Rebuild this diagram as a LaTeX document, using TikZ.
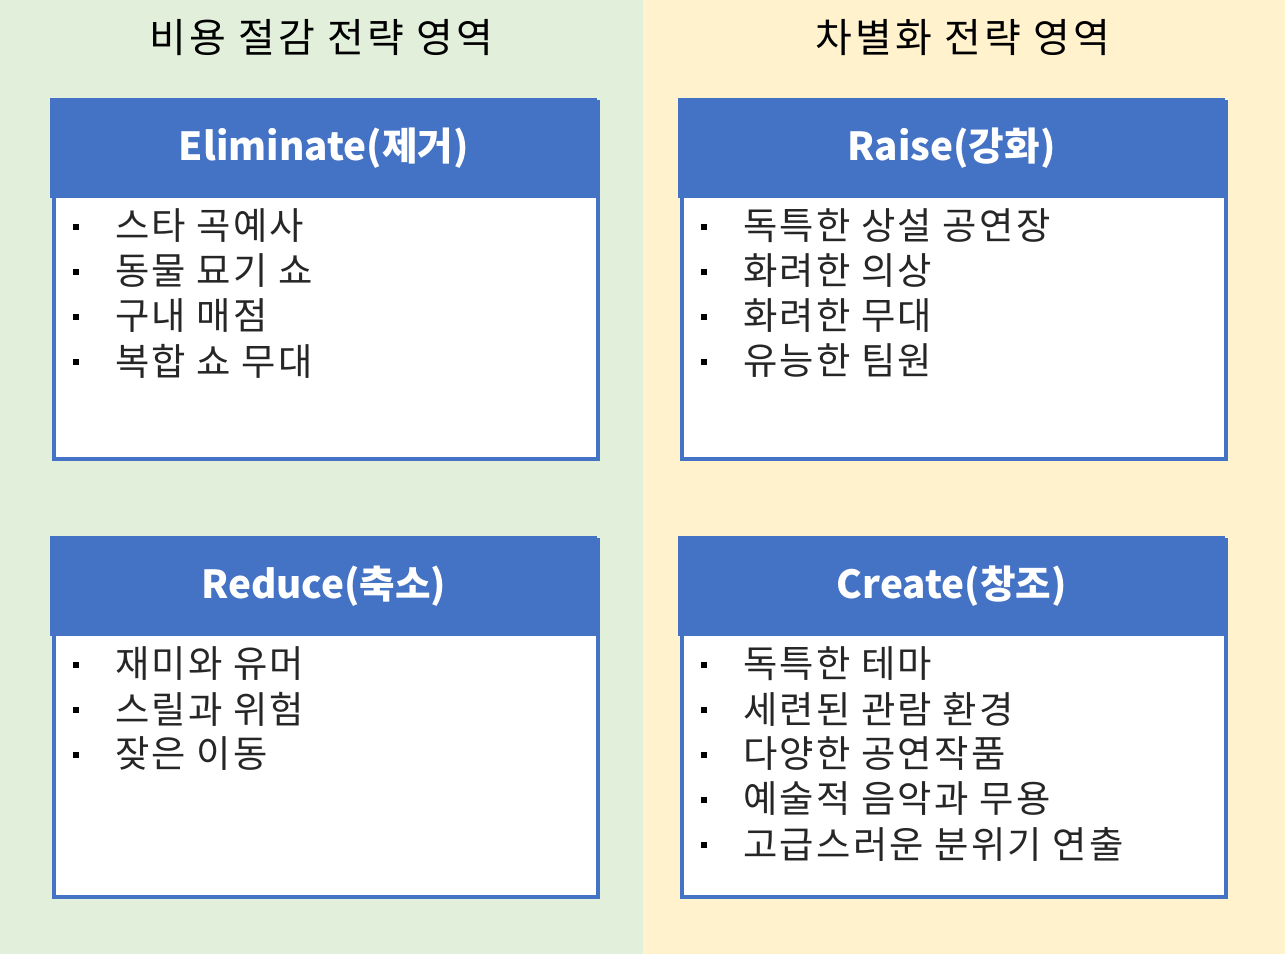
\documentclass[tikz,border=0pt]{standalone}
\usepackage{fontspec}
\setmainfont{Noto Sans CJK KR}
\definecolor{bgL}{HTML}{E2EFDA}
\definecolor{bgR}{HTML}{FFF2CC}
\definecolor{hb}{HTML}{4472C4}
\definecolor{tx}{HTML}{262626}
\tikzset{
  box/.style={draw=hb,line width=3pt,fill=white,minimum width=408pt,minimum height=267.75pt,anchor=north west,inner sep=0pt},
  head/.style={fill=hb,minimum width=410.25pt,minimum height=75pt,anchor=north west,inner sep=0pt,text=white,font=\fontsize{29}{34}\selectfont\bfseries},
  item/.style={anchor=west,inner sep=0pt,text=tx,font=\fontsize{28}{32}\selectfont\addfontfeature{LetterSpace=6}},
  ttl/.style={text=black,font=\fontsize{30}{36}\selectfont\addfontfeature{LetterSpace=8}},
  blt/.style={fill=black,minimum size=4.5pt,inner sep=0pt}
}
\begin{document}
\begin{tikzpicture}[x=0.75pt,y=-0.75pt]
\useasboundingbox (0,0) rectangle (1285,954);
\fill[bgL] (0,0) rectangle (643,954);
\fill[bgR] (643,0) rectangle (1285,954);
\node[ttl] (t1) at (321,38) {비용 절감 전략 영역};
\node[ttl] (t2) at (963,38) {차별화 전략 영역};
\def\quad#1#2#3#4{%
  \node[box] (b#1) at (#2+1.5,#3+1.5) {};
  \node[head] (h#1) at (#2,#3) {#4};
}
\quad{A}{50}{98}{Eliminate(제거)}
\quad{B}{678}{98}{Raise(강화)}
\quad{C}{50}{536}{Reduce(축소)}
\quad{D}{678}{536}{Create(창조)}
\foreach \t [count=\i] in {스타 곡예사,동물 묘기 쇼,구내 매점,복합 쇼 무대}
  {\node[blt] (ab\i) at (76,182+45*\i) {}; \node[item] (ai\i) at (115,181+45*\i) {\t};}
\foreach \t [count=\i] in {독특한 상설 공연장,화려한 의상,화려한 무대,유능한 팀원}
  {\node[blt] (bb\i) at (704,182+45*\i) {}; \node[item] (bi\i) at (743,181+45*\i) {\t};}
\foreach \t [count=\i] in {재미와 유머,스릴과 위험,잦은 이동}
  {\node[blt] (cb\i) at (76,620+45*\i) {}; \node[item] (ci\i) at (115,619+45*\i) {\t};}
\foreach \t [count=\i] in {독특한 테마,세련된 관람 환경,다양한 공연작품,예술적 음악과 무용,고급스러운 분위기 연출}
  {\node[blt] (db\i) at (704,620+45*\i) {}; \node[item] (di\i) at (743,619+45*\i) {\t};}
\end{tikzpicture}
\end{document}
